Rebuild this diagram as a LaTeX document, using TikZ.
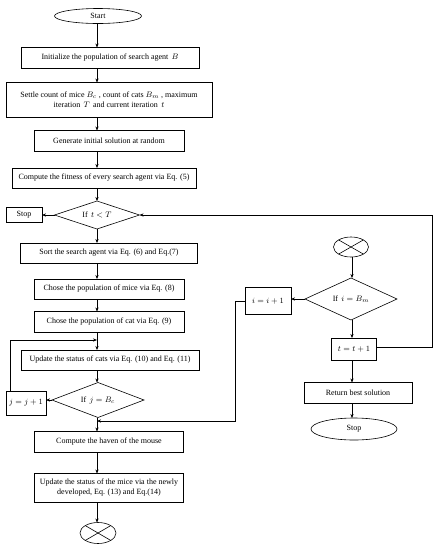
\documentclass[tikz,border=0pt]{standalone}
\usepackage{fontspec}
\setmainfont{Liberation Serif}
\usetikzlibrary{shapes.geometric,arrows.meta}
\begin{document}
\begin{tikzpicture}[x=1pt,y=-1pt,
  font=\fontsize{8}{10}\selectfont,
  line width=0.6pt,
  box/.style={draw, rectangle, inner sep=0pt, outer sep=0pt, align=center},
  dia/.style={draw, diamond, aspect=3, inner sep=0pt, outer sep=0pt},
  ell/.style={draw, ellipse, inner sep=0pt, outer sep=0pt},
  arr/.style={-{Stealth[length=4pt,width=3.2pt]}}]
\useasboundingbox (0,0) rectangle (436,550);
% main column
\node[ell, minimum width=87pt, minimum height=15pt] (start) at (98,16) {Start};
\node[box, minimum width=178pt, minimum height=21pt] (b1) at (110,58) {Initialize the population of search agent \,$B$};
\node[box, minimum width=206pt, minimum height=35pt] (b2) at (109,100) {\fontsize{8}{15}\selectfont Settle count of mice $B_c$ , count of cats $B_m$ , maximum\\ iteration \,$T$\, and current iteration \,$t$};
\node[box, minimum width=150pt, minimum height=21pt] (b3) at (109,141) {Generate initial solution at random};
\node[box, minimum width=184pt, minimum height=20pt] (b4) at (104,178) {Compute the fitness of every search agent via Eq. (5)};
\node[dia, minimum width=85pt, minimum height=28pt] (d1) at (97,215) {If \,$t<T$};
\node[box, minimum width=36pt, minimum height=15pt] (stop1) at (24,215) {Stop};
\node[box, minimum width=177pt, minimum height=20pt] (sort) at (109,253) {Sort the search agent via Eq. (6) and Eq.(7)};
\node[box, minimum width=150pt, minimum height=20pt] (mice) at (109,289) {Chose the population of mice via Eq. (8)};
\node[box, minimum width=150pt, minimum height=21pt] (cat) at (109,322) {Chose the population of cat via Eq. (9)};
\node[box, minimum width=178pt, minimum height=20pt] (upd) at (110,360) {Update the status of cats via Eq. (10) and Eq. (11)};
\node[dia, minimum width=92pt, minimum height=35pt] (d2) at (98,400) {If \,$j=B_c$};
\node[box, minimum width=40pt, minimum height=24pt] (j) at (26,403) {$j=j+1$};
\node[box, minimum width=149pt, minimum height=21pt] (haven) at (109,442) {Compute the haven of the mouse};
\node[box, minimum width=149pt, minimum height=29pt] (um) at (109,488) {\fontsize{8}{11}\selectfont Update the status of the mice via the newly\\ developed, Eq. (13) and Eq.(14)};
\node[ell, minimum width=36pt, minimum height=21pt] (c2) at (98,533) {};
\draw (c2.north west) -- (c2.south east) (c2.north east) -- (c2.south west);
% right column
\node[ell, minimum width=35pt, minimum height=20pt] (c1) at (351,247) {};
\draw (c1.north west) -- (c1.south east) (c1.north east) -- (c1.south west);
\node[dia, minimum width=92pt, minimum height=42pt] (d3) at (351,299) {If \,$i=B_m$};
\node[box, minimum width=46pt, minimum height=27pt] (i) at (268,301) {$i=i+1$};
\node[box, minimum width=45pt, minimum height=22pt] (t) at (354,349) {$t=t+1$};
\node[box, minimum width=108pt, minimum height=21pt] (ret) at (358,393) {Return best solution};
\node[ell, minimum width=86pt, minimum height=22pt] (stop2) at (354,429) {Stop};
% axis coordinates
\coordinate (ax) at (97,0);
\coordinate (rx) at (352,0);
\coordinate (jl) at (10,340);
\coordinate (m1) at (97,340);
\coordinate (il) at (235,421);
\coordinate (m2) at (97,421);
\coordinate (r1) at (432,347);
% main arrows
\draw[arr] (start.south -| ax) -- (b1.north -| ax);
\draw[arr] (b1.south -| ax) -- (b2.north -| ax);
\draw[arr] (b2.south -| ax) -- (b3.north -| ax);
\draw[arr] (b3.south -| ax) -- (b4.north -| ax);
\draw[arr] (b4.south -| ax) -- (d1.north);
\draw[arr] (d1.west) -- (stop1.east);
\draw[arr] (d1.south) -- (sort.north -| ax);
\draw[arr] (sort.south -| ax) -- (mice.north -| ax);
\draw[arr] (mice.south -| ax) -- (cat.north -| ax);
\draw[arr] (cat.south -| ax) -- (upd.north -| ax);
\draw[arr] (upd.south -| ax) -- (d2.north -| ax);
\draw[arr] (d2.west) -- (d2.west -| j.east);
\draw[arr] (j.north -| jl) -- (jl) -- (m1);
\draw[arr] (d2.south -| ax) -- (haven.north -| ax);
\draw[arr] (haven.south -| ax) -- (um.north -| ax);
\draw[arr] (um.south -| ax) -- (c2.north -| ax);
% right arrows
\draw[arr] (c1.south -| rx) -- (d3.north -| rx);
\draw[arr] (d3.west) -- (d3.west -| i.east);
\draw[arr] (d3.south -| rx) -- (t.north -| rx);
\draw[arr] (t.south -| rx) -- (ret.north -| rx);
\draw[arr] (ret.south -| rx) -- (stop2.north -| rx);
\draw[arr] (i.west) -- (i.west -| il) -- (il) -- (m2);
\draw[arr] (t.east |- r1) -- (r1) -- (r1 |- d1.east) -- (d1.east);
\end{tikzpicture}
\end{document}
